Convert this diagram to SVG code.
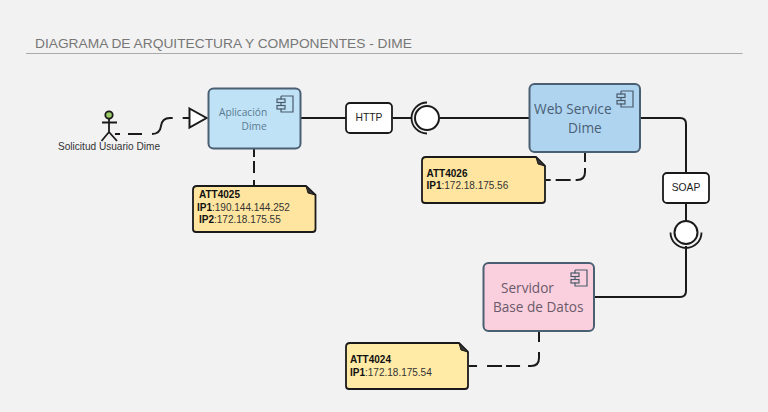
<svg xmlns="http://www.w3.org/2000/svg" width="768" height="412" viewBox="0 0 768 412">
<style>
text{font-family:"Liberation Sans",Arial,sans-serif}
.t{font-family:"Open Sans","Liberation Sans",sans-serif}
.c{fill:none;stroke:#1a1a1a;stroke-width:2;stroke-linejoin:round}
.n{stroke:#4a5f72;stroke-width:2}
.note{fill:#ffe5a0;stroke:#1a1a1a;stroke-width:1.8;stroke-linejoin:round}
.nt{font-size:10px;fill:#333}
.nb{font-weight:bold;fill:#111}
.lbl{fill:#fff;stroke:#1a1a1a;stroke-width:1.8}
.lt{font-size:10.300px;fill:#222;text-anchor:middle}
.ic{fill:none;stroke:#4a5a6a;stroke-width:1.200}
</style>
<defs>
<g id="cmp"><path class="ic" d="M4 0H16V16H4V12.500M4 3.500V0M4 6.500V9.500"/><rect class="ic" x="0" y="3" width="8" height="3.500"/><rect class="ic" x="0" y="9.500" width="8" height="3.500"/></g>
</defs>
<rect width="768" height="412" fill="#f2f2f2"/>
<text x="35" y="48" font-size="13" fill="#777" textLength="377" lengthAdjust="spacingAndGlyphs">DIAGRAMA DE ARQUITECTURA Y COMPONENTES - DIME</text>
<path d="M26 53.500H742.500" stroke="#aaa" stroke-width="1.200" fill="none"/>
<g id="connectors">
<path class="c" stroke-dasharray="5 8 14 10 29 10 8" d="M115 134H152Q160 134 161 126Q162 118 170 118H190"/>
<path class="c" d="M300 118H346M393 118H412M440 118H529"/>
<path class="c" d="M640 118H680Q686 118 686 124V172M686 204V221M686 246V291Q686 297 680 297H595"/>
<path class="c" stroke-dasharray="8 4 12 7 6" d="M254 149V186"/>
<path class="c" stroke-dasharray="9 6 18 5 15 5 7" d="M585 153V172Q585 180 577 180H546"/>
<path class="c" stroke-dasharray="10 10 21.600 8 14 4 15 10 9" d="M539 332V358Q539 366 531 366H469"/>
</g>
<g id="actor" fill="none" stroke="#1a1a1a" stroke-width="1.800">
<circle cx="109" cy="115" r="3.700" fill="#9ccc65"/>
<path d="M109 119V132M102 122.500H117M109 132L101.500 141M109 132L117 141"/>
<text x="58" y="150" font-size="10.200" fill="#333" stroke="none" textLength="102" lengthAdjust="spacingAndGlyphs">Solicitud Usuario Dime</text>
</g>
<path id="triangle" d="M189.500 108.500L206.500 118L189.500 127.500Z" fill="#fff" stroke="#1a1a1a" stroke-width="2"/>
<g id="aplicacion">
<rect class="n" x="208.500" y="88.500" width="92" height="60" rx="5" fill="#bfe2f7"/>
<use href="#cmp" x="277" y="96"/>
<text class="t" x="219" y="116" font-size="10.200" fill="#5a7a90">Aplicación</text>
<text class="t" x="241.500" y="130" font-size="10.200" fill="#5a7a90">Dime</text>
</g>
<g id="http"><rect class="lbl" x="346" y="103" width="46" height="30" rx="4"/><text class="lt" x="369" y="120.500">HTTP</text></g>
<g id="socket1">
<path d="M427 102.500A15.500 15.500 0 0 0 427 133.500" fill="none" stroke="#1a1a1a" stroke-width="1.800"/>
<circle cx="427" cy="118" r="12" fill="#fff" stroke="#1a1a1a" stroke-width="2"/>
</g>
<g id="webservice">
<rect class="n" x="529.500" y="84" width="110.500" height="68" rx="5" fill="#afd4f0"/>
<use href="#cmp" x="617" y="91"/>
<text class="t" x="534" y="114" font-size="13.700" fill="#4a5f75">Web Service</text>
<text class="t" x="568" y="133" font-size="13.700" fill="#4a5f75">Dime</text>
</g>
<g id="soap"><rect class="lbl" x="663" y="173" width="46" height="30" rx="4"/><text class="lt" x="686" y="190.500">SOAP</text></g>
<g id="socket2">
<path d="M670.500 232.500A15.500 15.500 0 0 0 701.500 232.500" fill="none" stroke="#1a1a1a" stroke-width="1.800"/>
<circle cx="686" cy="232.500" r="11.500" fill="#fff" stroke="#1a1a1a" stroke-width="2"/>
</g>
<g id="servidor">
<rect class="n" x="483.500" y="263" width="110.500" height="68" rx="5" fill="#fad0de"/>
<use href="#cmp" x="571" y="270"/>
<text class="t" x="501" y="292.500" font-size="13.600" fill="#6b5a6a">Servidor</text>
<text class="t" x="493" y="311.500" font-size="13.600" fill="#6b5a6a">Base de Datos</text>
</g>
<g id="note25">
<path class="note" d="M197 186H306L315.500 195V229Q315.500 232 312.500 232H196Q193 232 193 229V190Q193 186 197 186Z"/>
<path d="M306 186L315.500 195L308 193Z" fill="#333" stroke="#1a1a1a"/>
<text class="nt nb" x="199" y="198">ATT4025</text>
<text class="nt" x="197" y="210.500"><tspan class="nb">IP1</tspan>:190.144.144.252</text>
<text class="nt" x="199" y="222.500"><tspan class="nb">IP2</tspan>:172.18.175.55</text>
</g>
<g id="note26">
<path class="note" d="M426 157H536L545 166V200Q545 203 542 203H425Q422 203 422 200V161Q422 157 426 157Z"/>
<path d="M536 157L545 166L538 164Z" fill="#333" stroke="#1a1a1a"/>
<text class="nt nb" x="426.500" y="176.500">ATT4026</text>
<text class="nt" x="426.500" y="189"><tspan class="nb">IP1</tspan>:172.18.175.56</text>
</g>
<g id="note24">
<path class="note" style="fill:#ffeaa6" d="M350 343H459L468 352V386Q468 389 465 389H349Q346 389 346 386V347Q346 343 350 343Z"/>
<path d="M459 343L468 352L461 350Z" fill="#333" stroke="#1a1a1a"/>
<text class="nt nb" x="350" y="362.500">ATT4024</text>
<text class="nt" x="350" y="375.500"><tspan class="nb">IP1</tspan>:172.18.175.54</text>
</g>
</svg>
